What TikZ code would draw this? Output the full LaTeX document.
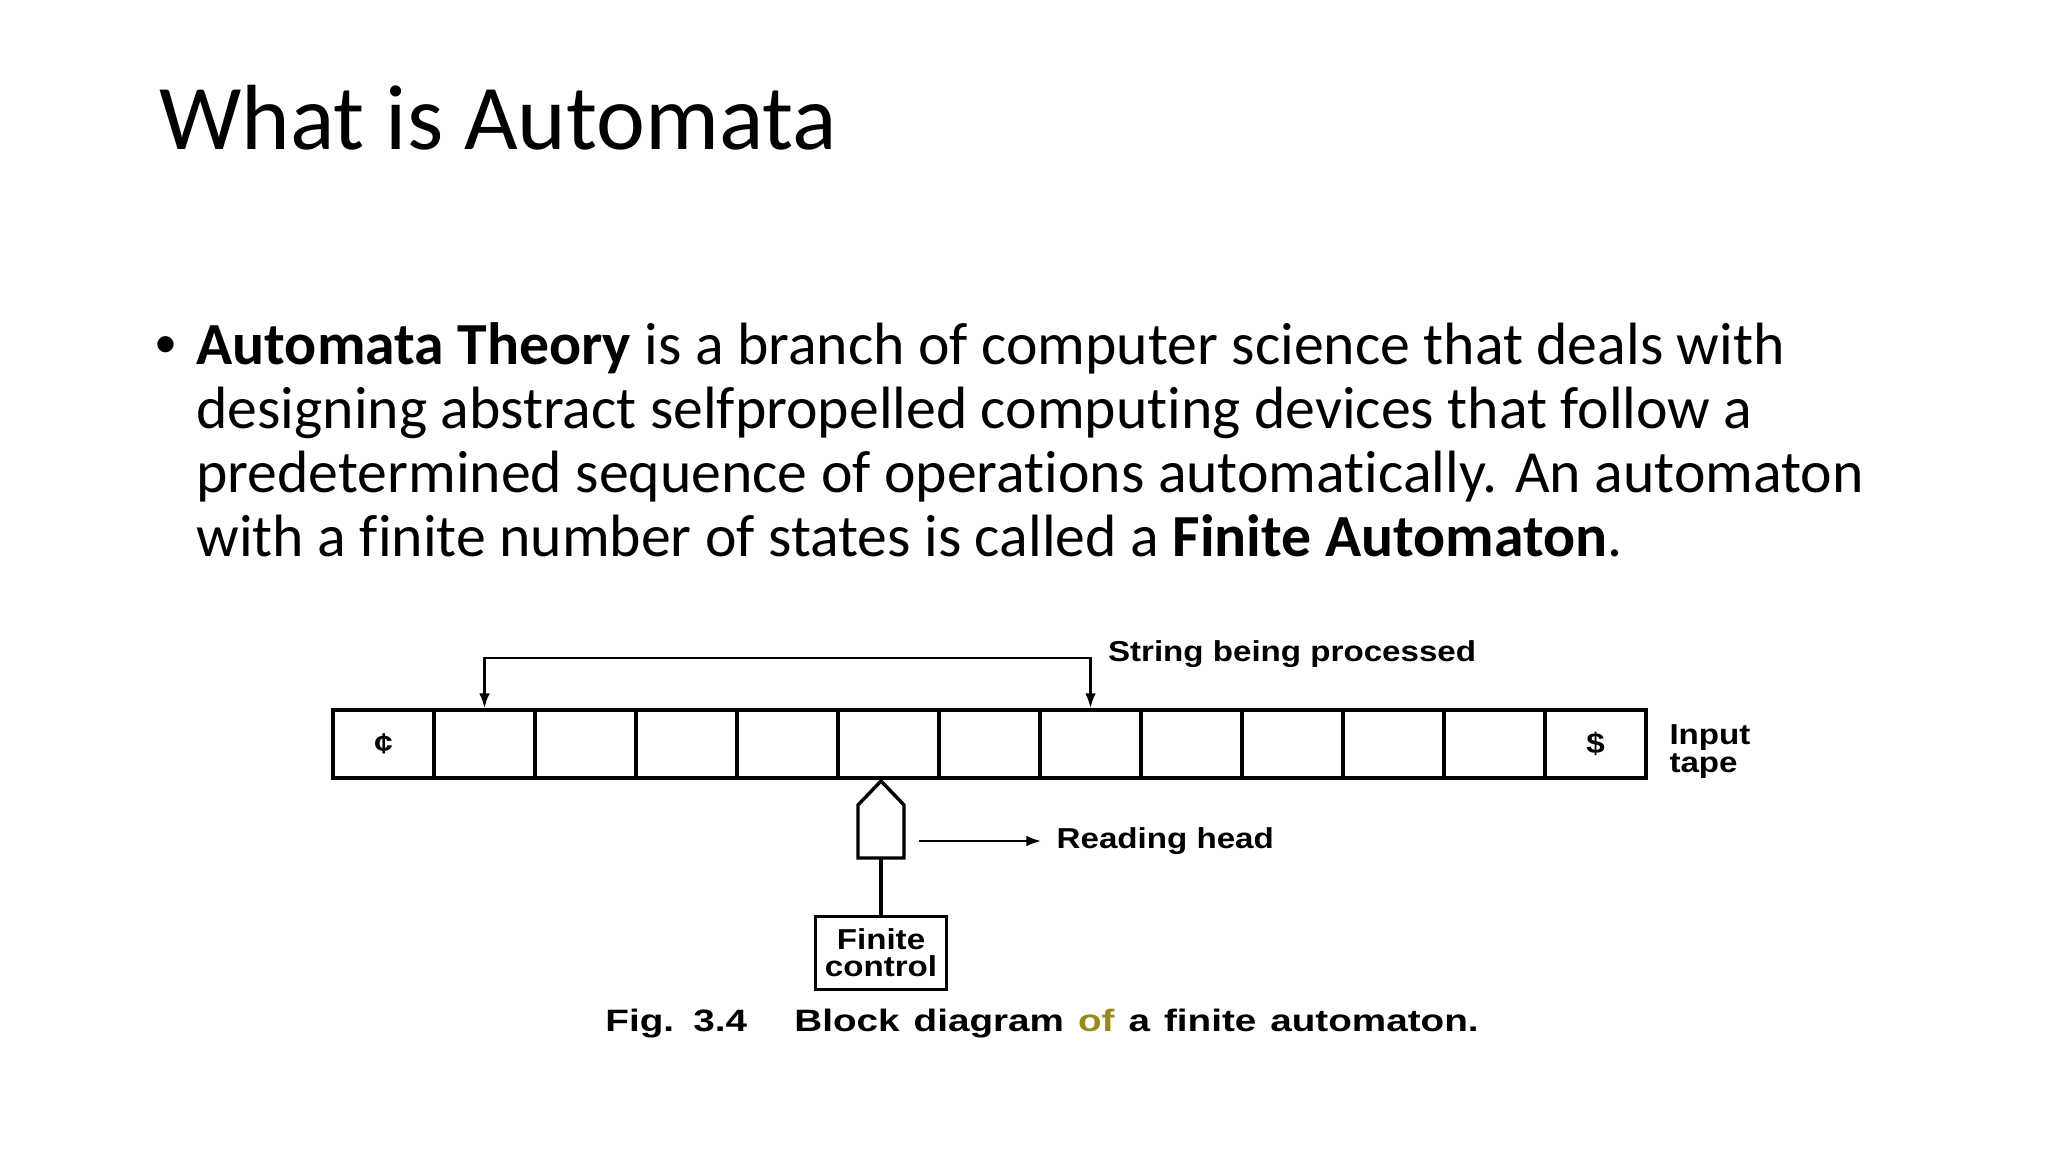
\documentclass[tikz,border=0pt]{standalone}
\usepackage{fontspec}
\setmainfont{Carlito}[Ligatures=CommonOff]
\newfontfamily\figfont{Liberation Sans}[FakeStretch=1.15]
\newfontfamily\capfont{Liberation Sans}[FakeStretch=1.25, WordSpace=1.3]
\newfontfamily\bulletfont{Liberation Sans}
\usetikzlibrary{arrows.meta,positioning}
\definecolor{ofyellow}{RGB}{150,140,30}
\setlength{\lineskiplimit}{-10pt}

\begin{document}
\begin{tikzpicture}[x=0.46875pt, y=-0.46875pt,
  cellbox/.style={draw, line width=1.6pt, minimum width=47.35pt, minimum height=31.9pt, inner sep=0pt},
  figlbl/.style={font=\figfont\bfseries\fontsize{13.5}{12.8}\selectfont, inner sep=2pt},
  arr/.style={line width=1.2pt, -{Latex[length=7pt,width=5pt]}},
  bodyline/.style={anchor=base west, inner sep=0pt, font=\fontsize{28}{30}\selectfont}]
  \useasboundingbox (0,0) rectangle (2048,1152);
  % slide text
  \node[anchor=base west, inner sep=0pt, font=\fontsize{43.4}{50}\selectfont] (title) at (159,150) {What is Automata};
  \node[bodyline, font=\bulletfont\fontsize{28}{30}\selectfont] (bullet) at (155,364) {•};
  \node[bodyline] (line1) at (196,364) {\textbf{Automata Theory} is a branch of computer science that deals with};
  \node[bodyline] (line2) at (196,428) {designing abstract selfpropelled computing devices that follow a};
  \node[bodyline] (line3) at (196,492) {predetermined sequence of operations automatically. An automaton};
  \node[bodyline] (line4) at (196,556) {with a finite number of states is called a \textbf{Finite Automaton}.};
  % input tape
  \foreach \i in {1,...,13}
    \node[cellbox] (c\i) at ({333+101*(\i-0.5)},744) {};
  \node[figlbl] (cent) at (c1) {¢};
  \node[figlbl] (dollar) at (c13) {\$};
  \node[figlbl, align=left, anchor=west] (tape) at ([xshift=8pt,yshift=-3.5pt]c13.east) {Input\\tape};
  % string being processed
  \coordinate (bl) at (c2.north |- 0,658);
  \coordinate (br) at (c8.north |- 0,658);
  \draw[line width=1.2pt, {Latex[length=7pt,width=5pt]}-{Latex[length=7pt,width=5pt]}] (c2.north) -- (bl) -- (br) -- (c8.north);
  \node[figlbl, anchor=west] (strlbl) at ([xshift=6pt, yshift=2pt]br) {String being processed};
  % reading head
  \draw[line width=1.6pt] (881,781) -- (904,805) -- (904,858) -- (858,858) -- (858,805) -- cycle;
  \coordinate (headbot) at (881,858);
  \coordinate (rdstart) at (919,841);
  \node[figlbl, anchor=west] (rdlbl) at (1052,841) {Reading head};
  \draw[arr] (rdstart) -- ([xshift=-5pt]rdlbl.west);
  % finite control
  \node[figlbl, draw, line width=1.6pt, minimum width=61.4pt, minimum height=34.2pt, align=center] (fc) at (881,953) {Finite\\control};
  \draw[line width=1.6pt] (headbot) -- (fc.north);
  % caption
  \node[anchor=base west, inner sep=0pt, font=\capfont\bfseries\fontsize{14.5}{18}\selectfont] (fig) at (605,1031) {Fig.~\,3.4};
  \node[anchor=base west, inner sep=0pt, font=\capfont\bfseries\fontsize{14.5}{18}\selectfont] (figtxt) at (794,1031) {Block diagram {\color{ofyellow}of} a finite automaton.};
\end{tikzpicture}
\end{document}
